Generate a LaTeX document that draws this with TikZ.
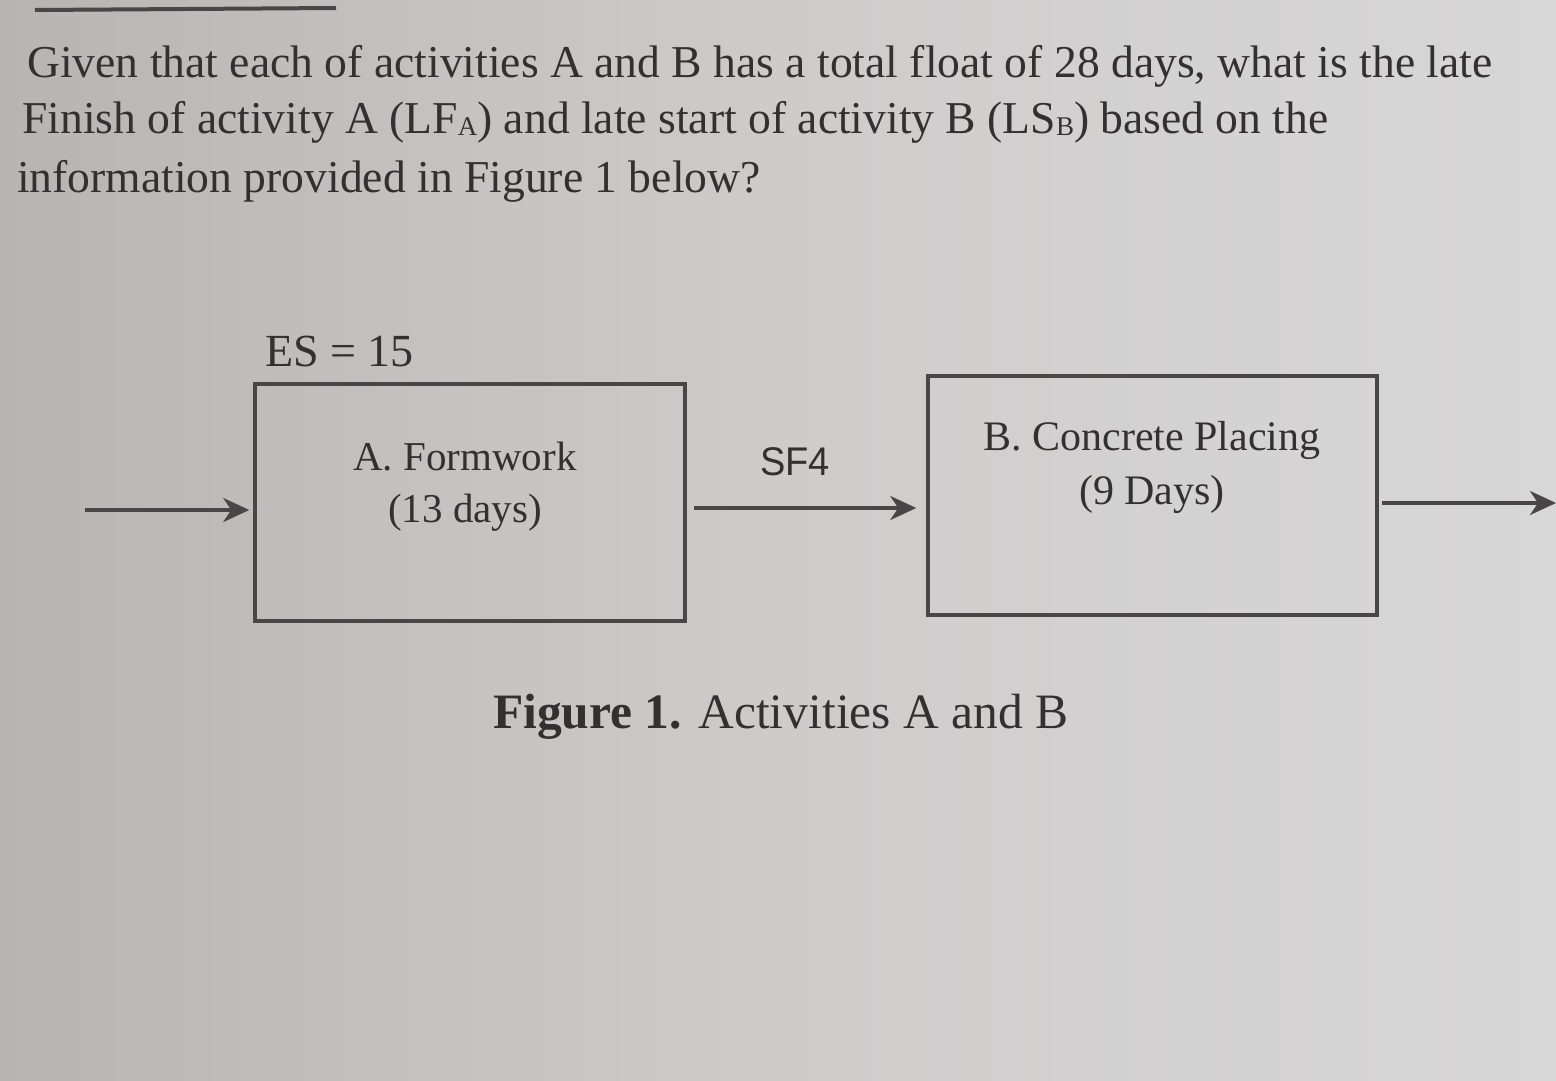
\documentclass[tikz,border=0pt]{standalone}
\usepackage{fontspec}
\setmainfont{Liberation Serif}
\newfontfamily\arialf[FakeStretch=0.95]{Liberation Sans}
\usetikzlibrary{arrows.meta}
\definecolor{ink}{RGB}{50,48,48}
\definecolor{rulec}{RGB}{72,70,70}
\definecolor{paperL}{RGB}{184,180,178}
\definecolor{paperM}{RGB}{206,204,203}
\definecolor{paperR}{RGB}{216,215,216}
\newcommand{\sbs}[1]{\raisebox{-0.12ex}{\fontsize{27}{27}\selectfont #1}}
\begin{document}
\begin{tikzpicture}[x=1pt,y=-1pt,
  qtext/.style={anchor=base west, inner sep=0, text=ink, font=\fontsize{45.6}{50}\selectfont},
  lbl/.style={inner sep=0, text=ink, align=center, font=\fontsize{41}{52}\selectfont},
  actbox/.style={draw=rulec, line width=3.5pt, inner sep=0},
  flow/.style={draw=rulec, line width=3.5pt, -{Stealth[length=26pt,width=24pt,inset=8pt]}}
]
\shade[left color=paperL, right color=paperR, middle color=paperM] (0,0) rectangle (1556,1080);
\useasboundingbox (0,0) rectangle (1556,1080);
% cut-off heading underline
\draw[rulec, line width=4pt] (35,10) -- (336,8);
% question
\node[qtext] (q1) at (27,77) {Given that each of activities A and B has a total float of 28 days, what is the late};
\node[qtext] (q2) at (22,133) {Finish of activity A (LF\sbs{A}) and late start of activity B (LS\sbs{B}) based on the};
\node[qtext] (q3) at (17,192) {information provided in Figure 1 below?};
% diagram
\node[lbl, anchor=base west, font=\fontsize{46}{50}\selectfont] (es) at (265,366) {ES = 15};
\node[actbox, minimum width=430pt, minimum height=237pt] (A) at (470,502.5) {};
\node[actbox, minimum width=449pt, minimum height=239pt] (B) at (1152.5,495.5) {};
\node[lbl] (Atxt) at (465,487) {A. Formwork\\(13 days)};
\node[lbl, font=\fontsize{42}{54}\selectfont] (Btxt) at (1152,467) {B. Concrete Placing\\(9 Days)};
\node[inner sep=0, text=ink, font=\arialf\fontsize{40}{44}\selectfont] (sf) at (795,462) {SF4};
\coordinate (in) at (85,510);
\coordinate (out) at (1556,503);
\draw[flow, shorten >=4pt] (in) -- (in -| A.west);
\draw[flow, shorten <=7pt, shorten >=10pt] ([yshift=-5.5pt]A.east) -- ([yshift=-5.5pt]A.east -| B.west);
\draw[flow, shorten <=3pt] (out -| B.east) -- (out);
% caption
\node[lbl, anchor=base west, font=\fontsize{49.5}{54}\selectfont] (cap) at (493,728) {\textbf{Figure 1.} Activities A and B};
\end{tikzpicture}
\end{document}
